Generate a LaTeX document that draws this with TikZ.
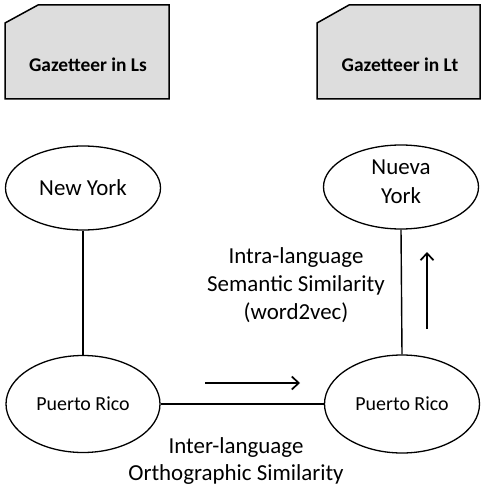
\documentclass[tikz,border=0pt]{standalone}
\usepackage{fontspec}
\setmainfont{Carlito}
\usetikzlibrary{arrows.meta,shapes.geometric}
\definecolor{gazfill}{HTML}{DDDDDD}
\tikzset{
  gazbox/.style={draw=black, line width=1.5bp, fill=gazfill},
  place/.style={draw=black, line width=1.3bp, ellipse, inner sep=0pt},
  link/.style={draw=black, line width=1.4bp},
  flow/.style={draw=black, line width=1.5bp, -{Straight Barb[length=7bp,width=13bp,line width=1.7bp]}},
  lbl/.style={font=\fontsize{23}{28}\selectfont, align=center, inner sep=0pt},
  gazlbl/.style={font=\fontsize{19.5}{24}\selectfont\bfseries, inner sep=0pt},
}
\begin{document}
\begin{tikzpicture}[x=1bp,y=-1bp]
\useasboundingbox (0,0) rectangle (485,499);
% gazetteer boxes
\draw[gazbox] (5,23) -- (38,5) -- (169,5) -- (169,99) -- (5,99) -- cycle;
\draw[gazbox] (317,23) -- (349,5) -- (480,5) -- (480,99) -- (317,99) -- cycle;
\node[gazlbl] (gs) at (88,65) {Gazetteer in Ls};
\node[gazlbl] (gt) at (400,65) {Gazetteer in Lt};
% ellipses
\node[place, minimum width=155bp, minimum height=84bp, font=\fontsize{23}{28}\selectfont] (ny) at (83,188) {New York};
\node[place, minimum width=155bp, minimum height=84bp] (nvy) at (401,187) {};
\node[lbl, font=\fontsize{23}{29}\selectfont] (nvyt) at (401,182) {Nueva\\York};
\node[place, minimum width=154bp, minimum height=97bp, font=\fontsize{20}{24}\selectfont] (prs) at (83,404) {Puerto Rico};
\node[place, minimum width=155bp, minimum height=98bp, font=\fontsize{20}{24}\selectfont] (prt) at (402,404) {Puerto Rico};
% connectors
\draw[link] (ny) -- (prs);
\draw[link] (nvy.south) -- (prt.north);
\draw[link] (prs) -- (prt);
% direction arrows
\coordinate (ra) at (205,383);
\coordinate (rb) at (300,383);
\draw[flow] (ra) -- (rb);
\coordinate (ua) at (427,329);
\coordinate (ub) at (427,252);
\draw[flow] (ua) -- (ub);
% labels
\node[lbl] (intra) at (296,285) {Intra-language\\Semantic Similarity\\(word2vec)};
\node[lbl] (inter) at (236,461) {Inter-language\\Orthographic Similarity};
\end{tikzpicture}
\end{document}
